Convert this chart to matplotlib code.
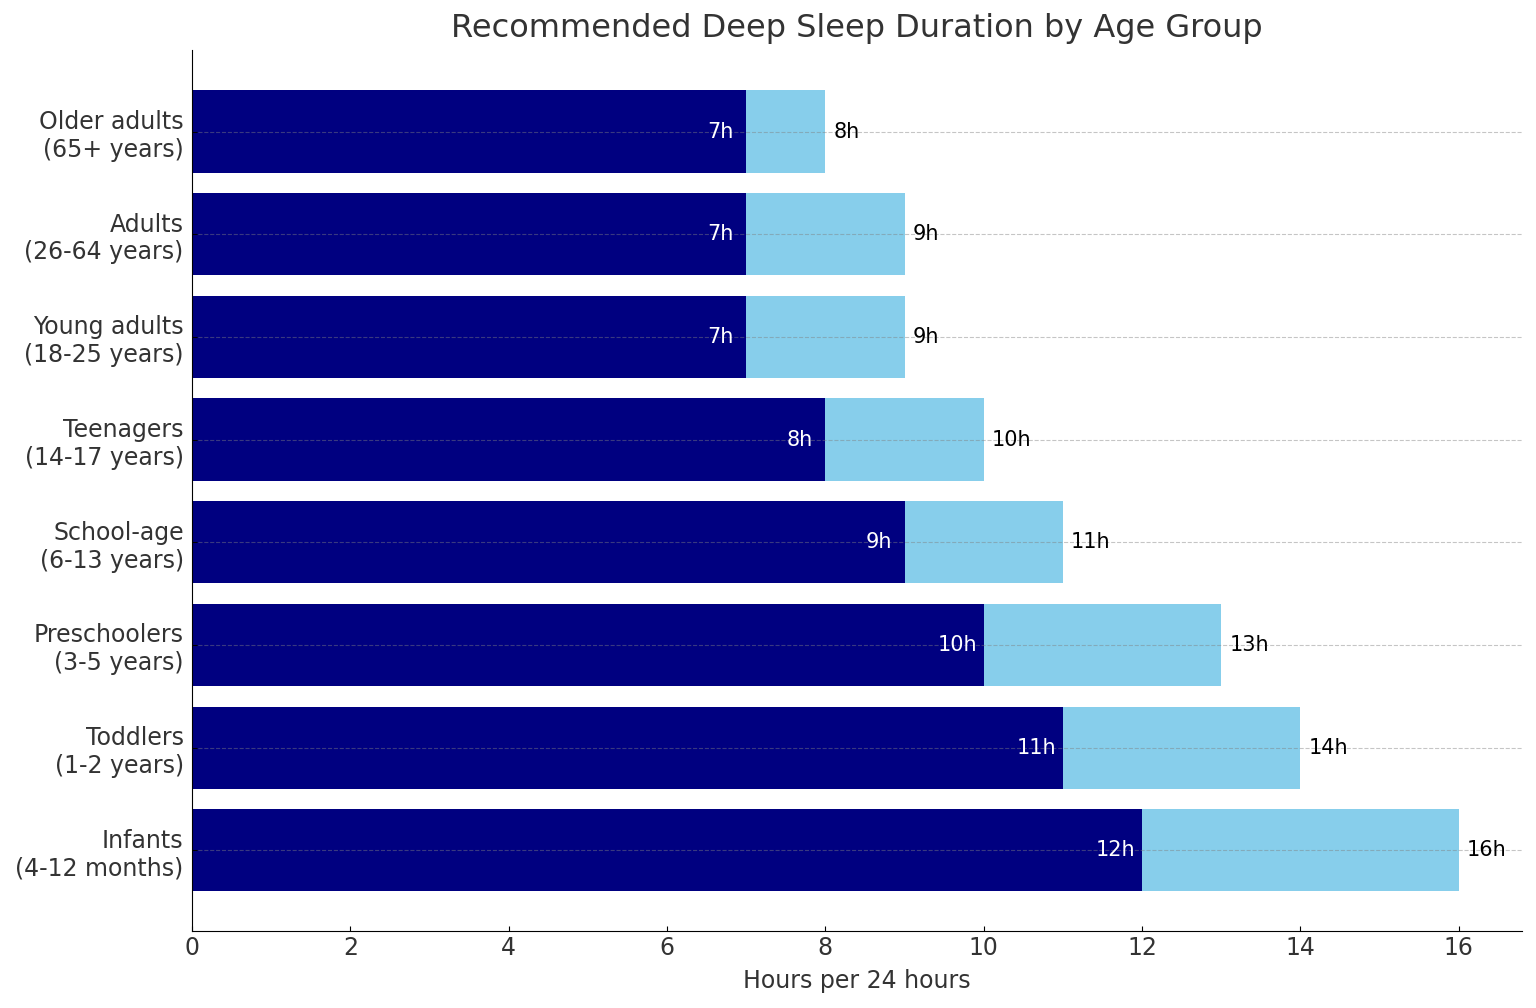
import matplotlib.pyplot as plt

# age groups, bottom to top as drawn
groups = ['Infants\n(4-12 months)', 'Toddlers\n(1-2 years)', 'Preschoolers\n(3-5 years)',
          'School-age\n(6-13 years)', 'Teenagers\n(14-17 years)', 'Young adults\n(18-25 years)',
          'Adults\n(26-64 years)', 'Older adults\n(65+ years)']
min_hours = [12, 11, 10, 9, 8, 7, 7, 7]
max_hours = [16, 14, 13, 11, 10, 9, 9, 8]

fig, ax = plt.subplots(figsize=(15.36, 10.08), dpi=100)

# max bar first, min bar on top of it
ax.barh(groups, max_hours, color='skyblue', height=0.8)
ax.barh(groups, min_hours, color='navy', height=0.8)

for i in range(len(groups)):
    ax.text(min_hours[i] - 0.33, i, f'{min_hours[i]}h', color='white', ha='center', va='center', fontsize=15)
    ax.text(max_hours[i] + 0.1, i, f'{max_hours[i]}h', color='black', ha='left', va='center', fontsize=15)

ax.set_title('Recommended Deep Sleep Duration by Age Group', fontsize=23, color='#333333', pad=10)
ax.title.set_y(1.0)
ax.set_xlabel('Hours per 24 hours', fontsize=17, color='#333333', labelpad=6)
ax.tick_params(axis='both', labelsize=17, labelcolor='#333333', direction='in')
ax.tick_params(axis='y', pad=6)
ax.grid(axis='y', linestyle='--', color='gray', alpha=0.45)
ax.spines['top'].set_visible(False)
ax.spines['right'].set_visible(False)

plt.subplots_adjust(left=0.125, right=0.991, top=0.950, bottom=0.076)
plt.savefig('out.png', dpi=100)
